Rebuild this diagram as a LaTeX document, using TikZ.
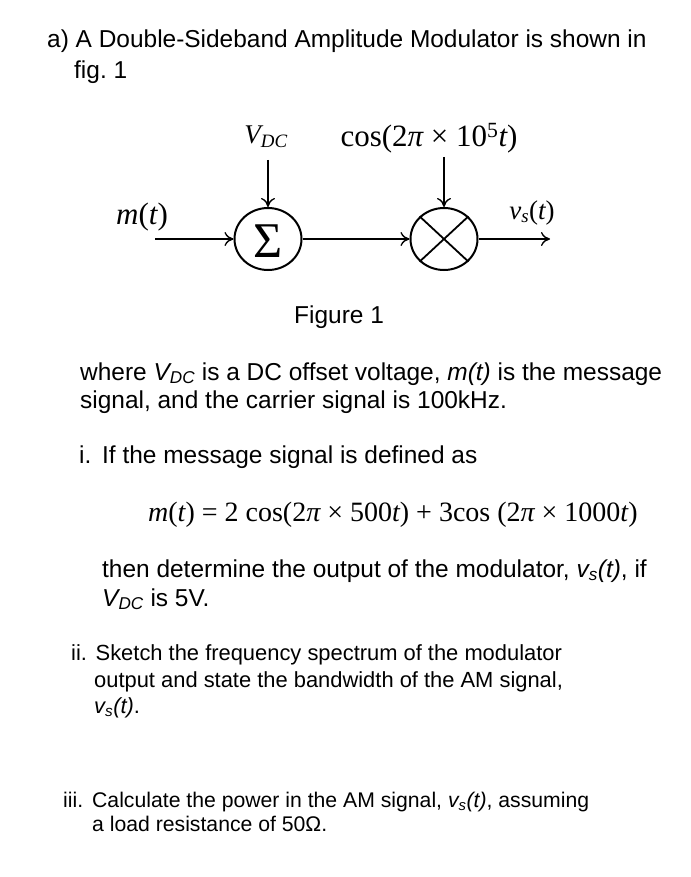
\documentclass[tikz,border=0pt]{standalone}
\usepackage{fontspec}
\setmainfont{Liberation Sans}
\newfontfamily\eqfont{Liberation Serif}
\usetikzlibrary{arrows.meta,shapes.geometric}
\newcommand{\eqi}[1]{{\itshape #1}}
\frenchspacing
\tikzset{
  big/.style={anchor=base west,inner sep=0pt,font=\fontsize{24.45}{25}\selectfont},
  smallq/.style={anchor=base west,inner sep=0pt,font=\fontsize{21.9}{22}\selectfont},
  smallr/.style={anchor=base west,inner sep=0pt,font=\fontsize{21.2}{22}\selectfont},
  mathlab/.style={anchor=base,inner sep=0pt,font=\eqfont\fontsize{27}{27}\selectfont},
  mathbig/.style={anchor=base,inner sep=0pt,font=\eqfont\fontsize{31}{31}\selectfont},
  block/.style={draw,line width=2pt,ellipse,minimum width=67pt,minimum height=62pt,inner sep=0pt},
  sig/.style={-{To[length=9pt,width=14pt]},line width=1.3pt}
}
\begin{document}
\begin{tikzpicture}[x=1pt,y=-1pt]
\useasboundingbox (0,0) rectangle (690,877);
\node[big] (t1) at (47,48) {a) A Double-Sideband Amplitude Modulator is shown in};
\node[big] (t2) at (74,79) {fig. 1};
\node[block] (sum) at (268,239) {};
\node[anchor=center,inner sep=0pt,font=\eqfont\fontsize{50}{50}\selectfont] (sigma) at (268,241) {Σ};
\node[block] (mul) at (444,239) {};
\draw[line width=1.8pt] (mul.north west) -- (mul.south east);
\draw[line width=1.8pt] (mul.north east) -- (mul.south west);
\coordinate (in) at (155,239);
\coordinate (dc) at (268,160);
\coordinate (car) at (444,157);
\coordinate (out) at (550,239);
\draw[sig] (in) -- (sum.west);
\draw[sig] (dc) -- (sum.north);
\draw[sig] (sum.east) -- (mul.west);
\draw[sig] (car) -- (mul.north);
\draw[sig] (mul.east) -- (out);
\node[mathbig] (lm) at (142,225) {\eqi{m}(\eqi{t})};
\node[mathlab] (lv) at (266,144) {\eqi{V}\textsubscript{\eqi{DC}}};
\node[mathbig] (lc) at (429,147) {cos(2\eqi{π} × 10\textsuperscript{5}\eqi{t})};
\node[mathlab] (lo) at (532,219) {\eqi{v}\textsubscript{\eqi{s}}(\eqi{t})};
\node[big] (fig) at (294,323) {Figure 1};
\node[big] (p1) at (80,380) {where \textit{V\textsubscript{DC}} is a DC offset voltage, \textit{m(t)} is the message};
\node[big] (p2) at (80,408) {signal, and the carrier signal is 100kHz.};
\node[big] (p3) at (79,463) {\makebox[23pt][l]{i.}If the message signal is defined as};
\node[anchor=base west,inner sep=0pt,font=\eqfont\fontsize{28}{28}\selectfont] (eq) at (148,521) {\eqi{m}(\eqi{t}) = 2 cos(2\eqi{π} × 500\eqi{t}) + 3cos (2\eqi{π} × 1000\eqi{t})};
\node[big] (p4) at (102,577) {then determine the output of the modulator, \textit{v\textsubscript{s}(t)}, if};
\node[big] (p5) at (102,606) {\textit{V\textsubscript{DC}} is 5V.};
\node[smallq] (q1) at (71,660) {\makebox[24.5pt][l]{ii.}Sketch the frequency spectrum of the modulator};
\node[smallq] (q2) at (94,687) {output and state the bandwidth of the AM signal,};
\node[smallq] (q3) at (94,713) {\textit{v\textsubscript{s}(t)}.};
\node[smallr] (r1) at (63,807) {\makebox[29pt][l]{iii.}Calculate the power in the AM signal, \textit{v\textsubscript{s}(t)}, assuming};
\node[smallr] (r2) at (92,831) {a load resistance of 50Ω.};
\end{tikzpicture}
\end{document}
